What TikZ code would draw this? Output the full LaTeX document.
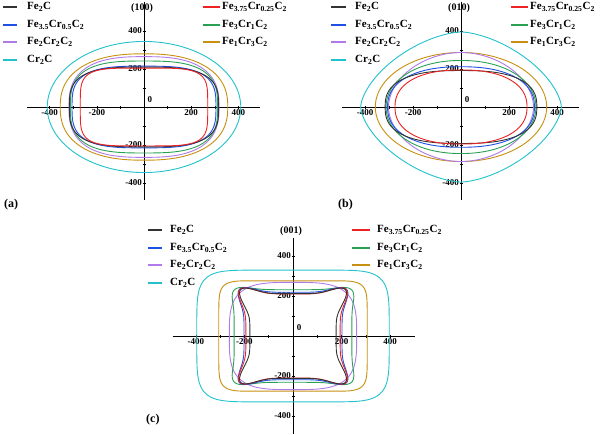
\documentclass[tikz,border=0pt]{standalone}
\usepackage{fontspec}
\setmainfont{Liberation Serif}
\newcommand{\sbs}[1]{\textsubscript{#1}}
\definecolor{cblk}{HTML}{333333}
\definecolor{cblu}{HTML}{1F50E6}
\definecolor{cred}{HTML}{EE2222}
\definecolor{cgrn}{HTML}{2AA055}
\definecolor{cvio}{HTML}{B07AE8}
\definecolor{cgld}{HTML}{C89010}
\definecolor{ccya}{HTML}{22C2CC}
\tikzset{
  declare function={sc(\t,\n)=cos(\t)*abs(cos(\t))^(2/\n-1);
    ss(\t,\n)=sin(\t)*abs(sin(\t))^(2/\n-1);
    dp(\t,\p,\q)=1-\p*abs(cos(\t))^8-\q*abs(sin(\t))^8;},
  crv/.style={line width=0.9pt,smooth,samples=180,domain=0.5:359.5},
  axl/.style={line width=0.9pt,black},
  tkl/.style={font=\bfseries\fontsize{9}{10}\selectfont,inner sep=1pt},
  lgt/.style={font=\bfseries\fontsize{11}{12}\selectfont,anchor=west,inner sep=0pt},
  lgl/.style={line width=1.1pt},
  pnl/.style={font=\bfseries\fontsize{12}{13}\selectfont,anchor=west,inner sep=0pt}
}
\newcommand{\curve}[7]{\draw[crv,#1] plot ({#2*sc(\x,#4)*dp(\x,#5,#6)},{#3*ss(\x,#4)*dp(\x,#5,#6)}) -- cycle;}
\newcommand{\axes}[5]{%
  \draw[axl] (#1,0) -- (#2,0);
  \draw[axl] (0,#3) -- (0,#4);
  \foreach \t in {-400,-300,...,400}{\draw[line width=0.6pt] ([yshift=-1.5pt]\t,0) -- ([yshift=1.5pt]\t,0);}
  \foreach \t in {-400,-300,...,400}{\draw[line width=0.6pt] ([xshift=-1.5pt]0,\t) -- ([xshift=1.5pt]0,\t);}
  \foreach \t in {-400,-200,200,400}{\node[tkl,below] (xl#5\t) at ([yshift=-1pt]\t,0) {\t};}
  \foreach \t in {-400,-200,200,400}{\node[tkl,left] (yl#5\t) at ([xshift=-1pt]0,\t) {\t};}
  \node[tkl] (z#5) at (25,40) {0};
}
\begin{document}
\begin{tikzpicture}[x=1pt,y=-1pt]
\path[use as bounding box,fill=white] (0,0) rectangle (602,434);
\begin{scope}
\foreach \c/\n/\y in {cblk/Fe\sbs{2}C/7,cblu/Fe\sbs{3.5}Cr\sbs{0.5}C\sbs{2}/25,cvio/Fe\sbs{2}Cr\sbs{2}C\sbs{2}/42,ccya/Cr\sbs{2}C/60}{
  \draw[lgl,\c] (3,\y) -- (17,\y); \node[lgt] at (27,\y) {\n};
  \draw[lgl,\c] (331,\y) -- (346,\y); \node[lgt] at (355,\y) {\n};
  \draw[lgl,\c] (148,\y+223) -- (162,\y+223); \node[lgt] at (170,\y+223) {\n};}
\foreach \c/\n/\y in {cred/Fe\sbs{3.75}Cr\sbs{0.25}C\sbs{2}/7,cgrn/Fe\sbs{3}Cr\sbs{1}C\sbs{2}/25,cgld/Fe\sbs{1}Cr\sbs{3}C\sbs{2}/42}{
  \draw[lgl,\c] (203,\y) -- (220,\y); \node[lgt] at (222,\y) {\n};
  \draw[lgl,\c] (511,\y) -- (528,\y); \node[lgt] at (530,\y) {\n};
  \draw[lgl,\c] (352,\y+223) -- (370,\y+223); \node[lgt] at (377,\y+223) {\n};}
\end{scope}
\node[pnl] (pa) at (4,205) {(a)};
\node[pnl] (pb) at (338,205) {(b)};
\node[pnl] (pc) at (146,420) {(c)};
\node[tkl,font=\bfseries\fontsize{10}{11}\selectfont] (ta) at (142,8) {(100)};
\node[tkl,font=\bfseries\fontsize{10}{11}\selectfont] (tb) at (459,8) {(010)};
\node[tkl,font=\bfseries\fontsize{10}{11}\selectfont] (tc) at (291,231) {(001)};
\begin{scope}[shift={(144pt,-107pt)},x=0.236pt,y=0.19pt]
\axes{-495}{490}{-490}{550}{a}
\curve{ccya}{410}{345}{2}{0}{0}{}
\curve{cgld}{355}{280}{2.4}{0}{0}{}
\curve{cvio}{318}{265}{2.7}{0}{0}{}
\curve{cgrn}{312}{242}{3}{0}{0}{}
\curve{cblu}{305}{215}{3.2}{0}{0}{}
\curve{cblk}{316}{210}{3.2}{0}{0}{}
\curve{cred}{270}{205}{4.5}{0}{0}{}
\end{scope}
\begin{scope}[shift={(461pt,-107pt)},x=0.24pt,y=0.19pt]
\axes{-495}{490}{-490}{550}{b}
\curve{ccya}{418}{395}{1.6}{0}{0}{}
\curve{cgld}{357}{287}{2}{0}{0}{}
\curve{cvio}{302}{287}{1.9}{0}{0}{}
\curve{cgrn}{312}{245}{2.1}{0}{0}{}
\curve{cblu}{306}{212}{2.3}{0}{0}{}
\curve{cblk}{316}{192}{2.6}{0}{0}{}
\curve{cred}{275}{195}{2.3}{0}{0}{}
\end{scope}
\begin{scope}[shift={(293pt,-336pt)},x=0.243pt,y=0.2pt]
\axes{-495}{500}{-490}{490}{c}
\curve{ccya}{400}{345}{5}{0.01}{0.045}{}
\curve{cgld}{315}{290}{6}{0.03}{0.05}{}
\curve{cvio}{262}{268}{3.5}{0}{0}{}
\curve{cgrn}{272}{266}{6}{0.11}{0.13}{}
\curve{cblu}{252}{270}{6}{0.2}{0.19}{}
\curve{cred}{252}{270}{6}{0.23}{0.22}{}
\curve{cblk}{250}{268}{6}{0.29}{0.21}{}
\end{scope}
\end{tikzpicture}
\end{document}
